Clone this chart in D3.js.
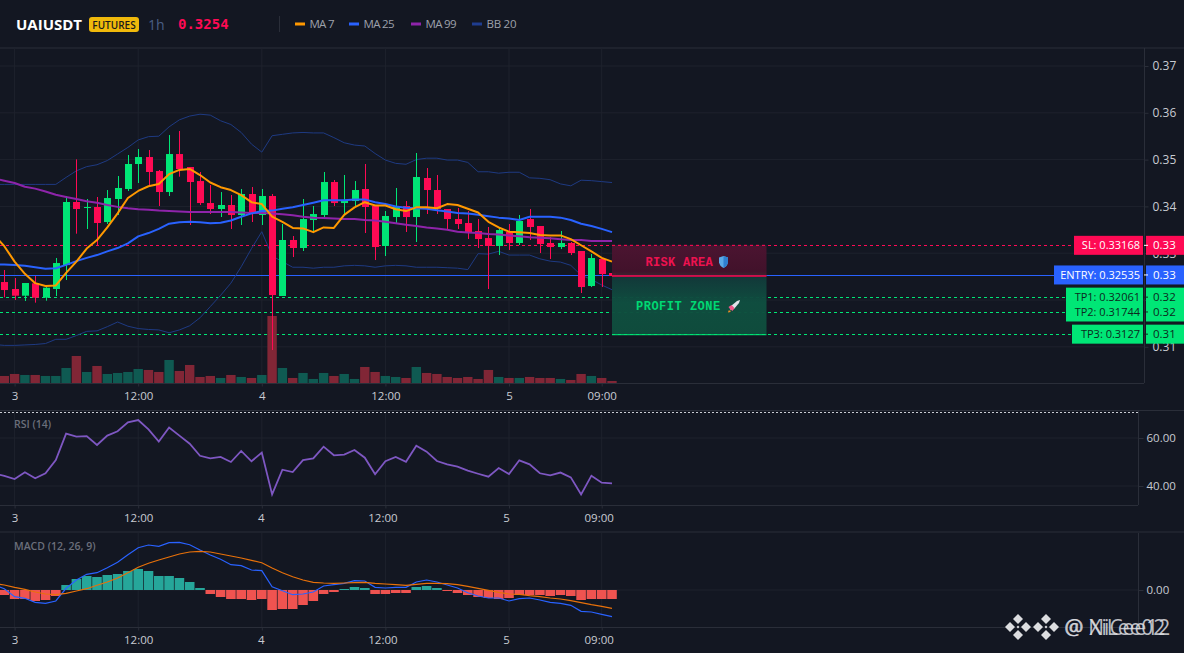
<!DOCTYPE html>
<html>
<head>
<meta charset="utf-8">
<script src="https://cdn.jsdelivr.net/npm/d3@7"></script>
<style>
  html, body { margin: 0; padding: 0; background: #131722; overflow: hidden; }
  text { font-family: "Open Sans", Roboto, sans-serif; }
</style>
</head>
<body>
<div id="chart"></div>
<script>
// candles, one per hour
const opens = [.32384,.32235,.32092,.32356,.32049,.32235,.32747,.34094,.33973,.33987,.33666,.34158,.34372,.34906,.35055,.34756,.34307,.35119,.34842,.34542,.34072,.33944,.34030,.33816,.34265,.33816,.34222,.32085,.33282,.33111,.33709,.33816,.34521,.34072,.34115,.34372,.34008,.33154,.33773,.34008,.33773,.34607,.34350,.33944,.33730,.33645,.33474,.33324,.33154,.33453,.33218,.33730,.33581,.33218,.33132,.33218,.33047,.32299,.32876,.32577];
const highs = [.32641,.32470,.32363,.32512,.32320,.32897,.34222,.35005,.34158,.34201,.34350,.34649,.35098,.35226,.35205,.34778,.35525,.35611,.34842,.34735,.34457,.34307,.34243,.34372,.34414,.34372,.34265,.33624,.33367,.34158,.34008,.34735,.34564,.34671,.34542,.34906,.34008,.33901,.34393,.34115,.35141,.34820,.34671,.33944,.33966,.33901,.33730,.33560,.33560,.33624,.33816,.33944,.33581,.33346,.33474,.33239,.33047,.32983,.32876,.32577];
const lows = [.32057,.32000,.31978,.31943,.31985,.32085,.32427,.33417,.33517,.33154,.33624,.33816,.34329,.34500,.34450,.34008,.34222,.34635,.33602,.34030,.33837,.33773,.33517,.33602,.33666,.33602,.30931,.32085,.32918,.33047,.33474,.33773,.34008,.33816,.33987,.33431,.32854,.32940,.33645,.33453,.33239,.33837,.33837,.33495,.33517,.33303,.33111,.32235,.32961,.33068,.33175,.33282,.33004,.32876,.33089,.32961,.32149,.32277,.32277,.32512];
const closes = [.32213,.32092,.32363,.32049,.32263,.32790,.34094,.33944,.33987,.33645,.34179,.34393,.34906,.35055,.34735,.34307,.35119,.34799,.34521,.34072,.33944,.34030,.33816,.34265,.33859,.34222,.32106,.33282,.33111,.33730,.33837,.34521,.34072,.34115,.34350,.33987,.33132,.33795,.34008,.33773,.34628,.34350,.33944,.33730,.33624,.33453,.33303,.33154,.33495,.33218,.33688,.33560,.33196,.33132,.33218,.33004,.32277,.32897,.32555,.32512];
const volumes = [22,28,25,25,22,22,46,82,34,52,28,31,34,43,40,34,70,37,55,19,22,16,25,19,16,25,202,46,16,31,13,31,22,28,13,49,34,22,19,16,49,31,28,19,16,19,13,40,19,16,16,19,16,16,13,10,28,22,16,7];

// overlay lines start one hour before the first candle
const ma7 = [.3339,.3315,.3282,.3256,.3236,.3230,.3231,.3258,.3282,.3310,.3328,.3355,.3385,.3418,.3433,.3443,.3448,.3469,.3478,.3480,.3467,.3451,.3441,.3435,.3424,.3409,.3405,.3378,.3367,.3354,.3353,.3345,.3355,.3354,.3382,.3398,.3409,.3402,.3402,.3394,.3390,.3398,.3398,.3396,.3405,.3403,.3395,.3387,.3367,.3355,.3346,.3345,.3343,.3339,.3338,.3338,.3330,.3317,.3304,.3290,.3282];
const ma25 = [.3276,.3276,.3275,.3273,.3270,.3267,.3268,.3275,.3283,.3290,.3296,.3304,.3311,.3321,.3336,.3343,.3352,.3363,.3366,.3367,.3366,.3364,.3365,.3370,.3378,.3385,.3390,.3391,.3395,.3398,.3403,.3408,.3413,.3413,.3413,.3415,.3415,.3409,.3405,.3400,.3397,.3396,.3395,.3392,.3389,.3386,.3385,.3382,.3379,.3376,.3374,.3371,.3378,.3378,.3378,.3376,.3371,.3363,.3358,.3352,.3345];
const ma99 = [.3460,.3455,.3450,.3442,.3438,.3432,.3425,.3420,.3416,.3411,.3408,.3403,.3399,.3396,.3394,.3393,.3391,.3390,.3389,.3388,.3388,.3388,.3388,.3388,.3387,.3386,.3386,.3385,.3383,.3381,.3378,.3376,.3375,.3374,.3373,.3373,.3371,.3370,.3367,.3364,.3361,.3358,.3355,.3353,.3350,.3346,.3344,.3343,.3341,.3340,.3338,.3336,.3334,.3333,.3332,.3330,.3328,.3328,.3326,.3326,.3326];
const bbUpper = [.3447,.3447,.3447,.3447,.3447,.3447,.3447,.3462,.3476,.3485,.3489,.3498,.3512,.3526,.3542,.3549,.3550,.3570,.3585,.3593,.3597,.3595,.3583,.3575,.3558,.3533,.3516,.3551,.3554,.3557,.3558,.3557,.3557,.3547,.3536,.3531,.3529,.3513,.3499,.3492,.3490,.3500,.3503,.3503,.3499,.3499,.3494,.3474,.3474,.3471,.3473,.3473,.3461,.3460,.3457,.3448,.3444,.3456,.3455,.3453,.3451];
const bbLower = [.3105,.3103,.3103,.3104,.3105,.3107,.3116,.3116,.3124,.3133,.3134,.3143,.3153,.3144,.3139,.3137,.3136,.3130,.3136,.3145,.3162,.3186,.3210,.3236,.3271,.3310,.3346,.3294,.3282,.3270,.3270,.3268,.3270,.3270,.3273,.3274,.3273,.3270,.3273,.3274,.3273,.3270,.3270,.3270,.3269,.3268,.3265,.3299,.3298,.3304,.3296,.3296,.3296,.3288,.3283,.3281,.3274,.3253,.3244,.3232,.3222];

const rsi = [45.3,44.2,42.9,45.7,43.2,45.3,50.8,61.8,60.6,60.8,57.1,61.0,62.8,66.5,67.5,63.6,58.5,64.4,61.0,57.6,52.6,51.5,52.1,50.0,54.6,50.3,53.9,36.5,46.8,45.8,50.8,51.5,56.4,52.8,53.1,55.0,51.8,44.9,50.3,52.1,50.1,56.8,54.3,50.4,49.0,48.1,46.4,45.1,43.9,47.5,45.0,50.7,49.0,45.3,44.4,45.6,43.6,36.5,44.3,41.4,41.1];
const macdLine = [.0005,.00013,-.00067,-.00083,-.00123,-.00133,-.0011,.00017,.001,.00157,.00173,.00223,.00277,.00353,.00423,.0045,.00437,.00473,.00477,.00453,.004,.0035,.00307,.00253,.00243,.002,.00193,.00033,-.00007,-.00047,-.0004,-.0002,.0004,.00053,.00067,.00093,.0009,.00027,.0002,.00027,.00027,.0008,.001,.0008,.0005,.0002,-.00027,-.0006,-.0008,-.0008,-.0011,-.00087,-.0008,-.001,-.00123,-.00133,-.00153,-.00213,-.0022,-.00243,-.00267];
const signalLine = [.00067,.0005,.00027,.00007,-.0002,-.0004,-.00047,-.00033,-.0001,.00013,.00047,.0008,.0012,.00173,.00227,.00267,.003,.0033,.0036,.0038,.00387,.0038,.0036,.0034,.0032,.00297,.00273,.0022,.00173,.00133,.001,.00077,.0007,.00067,.0007,.00073,.00077,.00067,.0006,.00053,.00047,.00057,.00067,.00067,.00063,.00053,.00037,.00017,-.00003,-.00023,-.0004,-.00043,-.00057,-.00067,-.0008,-.0009,-.00107,-.00127,-.00147,-.00163,-.00183];
const macdHist = [-.0005,-.0009,-.0009,-.0011,-.001,-.0006,.0005,.0011,.0014,.0013,.0015,.0016,.0019,.0021,.0019,.0014,.0014,.0012,.0008,.0002,-.0004,-.0007,-.0009,-.0009,-.001,-.0009,-.002,-.0019,-.0019,-.0015,-.0011,-.0004,-.0002,.0001,.0003,.0002,-.0004,-.0004,-.0003,-.0003,.0003,.0004,.0002,-.0001,-.0003,-.0005,-.0007,-.0008,-.0009,-.0008,-.0005,-.0005,-.0005,-.0006,-.0005,-.0006,-.001,-.0009,-.0009,-.0009];

const timeTicks = [1, 13, 25, 37, 49, 58];
const timeLabels = ["3", "12:00", "4", "12:00", "5", "09:00"];
const priceTicks = [0.31, 0.32, 0.33, 0.34, 0.35, 0.36, 0.37];
const rsiTicks = [40, 60];

const levelNames = ["SL: 0.33168", "ENTRY: 0.32535", "TP1: 0.32061", "TP2: 0.31744", "TP3: 0.3127"];
const levelValues = [0.33168, 0.32535, 0.32061, 0.31744, 0.3127];
const levelRounded = ["0.33", "0.33", "0.32", "0.32", "0.31"];
const levelColors = ["#ff0a54", "#2962ff", "#00e676", "#00e676", "#00e676"];
const levelInk = ["#fff", "#fff", "#0c2a20", "#0c2a20", "#0c2a20"];
const legendNames = ["MA 7", "MA 25", "MA 99", "BB 20"];
const legendColors = ["#ff9800", "#2962ff", "#8e24aa", "#1f3d8f"];

const dims = { width: 1184, height: 653, mainRight: 1144, subRight: 1138 };
const hours = d3.range(60);
const lineHours = d3.range(-1, 60);

const svg = d3.select("#chart").append("svg")
    .attr("width", dims.width)
    .attr("height", dims.height)
    .style("display", "block");

svg.append("rect").attr("width", dims.width).attr("height", dims.height).attr("fill", "#131722");

const x = d3.scaleLinear().domain([0, 59]).range([4.3, 612]);
const y = d3.scaleLinear().domain([0.31, 0.37]).range([346.8, 66]);
const yVol = d3.scaleLinear().domain([0, 202]).range([383.3, 316]);
const yRsi = d3.scaleLinear().domain([40, 60]).range([486, 438]);
const yMacd = d3.scaleLinear().domain([-0.001, 0.001]).range([600, 580]);

const defs = svg.append("defs");
[["clip-main", dims.mainRight, 48, 335], ["clip-rsi", dims.subRight, 412, 93], ["clip-macd", dims.subRight, 533, 94]]
    .forEach(c => defs.append("clipPath").attr("id", c[0]).append("rect")
        .attr("x", 0).attr("y", c[2]).attr("width", c[1]).attr("height", c[3]));

const riskFade = defs.append("linearGradient").attr("id", "risk-fade").attr("x2", 0).attr("y2", 1);
riskFade.append("stop").attr("offset", 0).attr("stop-color", "#4d1431");
riskFade.append("stop").attr("offset", 0.85).attr("stop-color", "#43122b");
riskFade.append("stop").attr("offset", 1).attr("stop-color", "#3a2630");
const profitFade = defs.append("linearGradient").attr("id", "profit-fade").attr("x2", 0).attr("y2", 1);
profitFade.append("stop").attr("offset", 0).attr("stop-color", "#12393a");
profitFade.append("stop").attr("offset", 0.45).attr("stop-color", "#0f4f40");
profitFade.append("stop").attr("offset", 1).attr("stop-color", "#0f4d3d");

// frame lines
const frame = "#2a2e39", gridCol = "#1e222d";
[[48, 0, 1184], [410.5, 0, 1184], [532, 0, 1184]].forEach(l =>
    svg.append("line").attr("x1", l[1]).attr("x2", l[2]).attr("y1", l[0]).attr("y2", l[0]).attr("stroke", frame));

function bottomAxis(yPos, right, shift) {
    const g = svg.append("g").attr("transform", `translate(0,${yPos})`)
        .call(d3.axisBottom(x).tickValues(timeTicks).tickSize(3).tickFormat((d, i) => timeLabels[i]));
    g.select(".domain").remove();
    g.append("line").attr("x1", 0).attr("x2", right).attr("stroke", frame);
    g.selectAll(".tick line").attr("stroke", frame);
    g.selectAll(".tick text").attr("fill", "#c8cbd2").attr("font-size", 11.5).attr("font-weight", 500)
        .attr("font-family", "'Open Sans', sans-serif").attr("dy", "0.95em")
        .attr("x", (d, i) => shift[i]);
}

function panelGrid(top, bottom, right) {
    const g = svg.append("g");
    g.selectAll("line.v").data(timeTicks).join("line")
        .attr("x1", d => x(d)).attr("x2", d => x(d)).attr("y1", top).attr("y2", bottom).attr("stroke", gridCol);
    g.append("line").attr("x1", right + 0.5).attr("x2", right + 0.5).attr("y1", top).attr("y2", bottom).attr("stroke", frame);
}

panelGrid(48, 383, dims.mainRight);
panelGrid(411, 505, dims.subRight);
panelGrid(533, 627, dims.subRight);

// price axis
const priceAxis = svg.append("g").attr("transform", `translate(${dims.mainRight + 0.5},0)`)
    .call(d3.axisRight(y).tickValues(priceTicks).tickSize(4).tickFormat(d3.format(".2f")));
priceAxis.select(".domain").remove();
priceAxis.selectAll(".tick line").attr("stroke", frame);
priceAxis.selectAll(".tick text").attr("fill", "#c8cbd2").attr("font-size", 12).attr("font-weight", 500)
    .attr("font-family", "'Open Sans', sans-serif").attr("x", 8);
svg.append("g").selectAll("line").data(priceTicks).join("line")
    .attr("x1", 0).attr("x2", dims.mainRight).attr("y1", d => y(d)).attr("y2", d => y(d)).attr("stroke", gridCol);

bottomAxis(383.5, dims.mainRight, [0, 0, 0, 0, 0, 0]);
bottomAxis(505.5, dims.subRight, [0, 0, -1, -3, -3, -3]);
bottomAxis(627.5, dims.subRight, [0, 0, -1, -3, -3, -3]);

// level lines
const main = svg.append("g").attr("clip-path", "url(#clip-main)");
const boxLeft = [1074, 1054, 1066, 1066, 1072];
main.selectAll("line.level").data(levelValues).join("line")
    .attr("x1", 0).attr("x2", (d, i) => boxLeft[i])
    .attr("y1", d => Math.round(y(d)) + 0.5).attr("y2", d => Math.round(y(d)) + 0.5)
    .attr("stroke", (d, i) => levelColors[i])
    .attr("stroke-width", 1)
    .attr("shape-rendering", "crispEdges")
    .attr("stroke-dasharray", (d, i) => i === 1 ? null : "3 3");

// volume
main.append("g").selectAll("rect").data(hours).join("rect")
    .attr("x", i => x(i) - 4.7).attr("width", 9.4)
    .attr("y", i => yVol(volumes[i])).attr("height", i => yVol(0) - yVol(volumes[i]))
    .attr("fill", i => closes[i] >= opens[i] ? "#0f5a52" : "#812636");

// bands under the candles
const lineGen = d3.line().x((d, i) => x(lineHours[i])).y(d => y(d));
[bbUpper, bbLower].forEach(s => main.append("path").attr("d", lineGen(s))
    .attr("fill", "none").attr("stroke", "#1e3a82").attr("stroke-width", 1));

// candles
const candles = main.append("g").selectAll("g").data(hours).join("g")
    .attr("fill", i => closes[i] >= opens[i] ? "#00e676" : "#ff0a54")
    .attr("stroke", i => closes[i] >= opens[i] ? "#00e676" : "#ff0a54");
candles.append("line")
    .attr("x1", i => Math.round(x(i)) + 0.5).attr("x2", i => Math.round(x(i)) + 0.5)
    .attr("y1", i => y(highs[i])).attr("y2", i => y(lows[i]));
candles.append("rect")
    .attr("stroke", "none")
    .attr("x", i => Math.round(x(i)) - 3).attr("width", 7)
    .attr("y", i => y(Math.max(opens[i], closes[i])))
    .attr("height", i => Math.max(1, Math.abs(y(opens[i]) - y(closes[i]))));

// moving averages
[[ma99, "#8e24aa"], [ma25, "#2962ff"], [ma7, "#ff9800"]].forEach(s =>
    main.append("path").attr("d", lineGen(s[0])).attr("fill", "none")
        .attr("stroke", s[1]).attr("stroke-width", 2).attr("stroke-linejoin", "round"));

// risk and profit zones
const zoneStart = 59, zoneEnd = 74;
main.append("rect").attr("x", x(zoneStart)).attr("width", x(zoneEnd) - x(zoneStart))
    .attr("y", y(levelValues[0])).attr("height", y(levelValues[1]) - y(levelValues[0]) + 1)
    .attr("fill", "url(#risk-fade)").attr("fill-opacity", 0.97);
main.append("rect").attr("x", x(zoneStart)).attr("width", x(zoneEnd) - x(zoneStart))
    .attr("y", y(levelValues[1]) + 2).attr("height", y(levelValues[4]) - y(levelValues[1]) - 2)
    .attr("fill", "url(#profit-fade)").attr("fill-opacity", 0.97);
main.append("line").attr("x1", x(zoneStart)).attr("x2", x(zoneEnd))
    .attr("y1", y(levelValues[0])).attr("y2", y(levelValues[0]))
    .attr("stroke", "#ff0a54").attr("stroke-dasharray", "3 3");
main.append("line").attr("x1", x(zoneStart)).attr("x2", x(zoneEnd))
    .attr("y1", y(levelValues[1]) + 1).attr("y2", y(levelValues[1]) + 1)
    .attr("stroke", "#ff0a54").attr("stroke-width", 1.5);
main.append("line").attr("x1", x(zoneStart)).attr("x2", x(zoneEnd))
    .attr("y1", y(levelValues[4]) + 0.5).attr("y2", y(levelValues[4]) + 0.5)
    .attr("stroke", "#00e676").attr("stroke-opacity", 0.85).attr("stroke-width", 1.2);

svg.append("text").attr("x", 645.5).attr("y", 266).text("RISK AREA")
    .attr("fill", "#ee1250").attr("font-size", 12).attr("font-weight", 700).attr("letter-spacing", 0.3)
    .style("font-family", "'Liberation Mono', monospace");
svg.append("text").attr("x", 636).attr("y", 310).text("PROFIT ZONE")
    .attr("fill", "#00d873").attr("font-size", 12).attr("font-weight", 700).attr("letter-spacing", 0.5)
    .style("font-family", "'Liberation Mono', monospace");

// shield and rocket glyphs, no emoji font here
svg.append("path").attr("d", "M719 257.5 l4.5-1.5 4.5 1.5 v5 q-1 4-4.5 5.5 q-3.5-1.5-4.5-5.5z").attr("fill", "#5aa9e6");
svg.append("path").attr("d", "M723.5 256 l4.5 1.5 v5 q-1 4-4.5 5.5z").attr("fill", "#2f7fd0");
svg.append("path").attr("d", "M730 309 l1-3 6-5 3-1 -1 3 -5 6 -3 1z").attr("fill", "#dfe3ea");
svg.append("path").attr("d", "M730 309 l-1.5-2 3-2 1 1 2 2 -2 3z").attr("fill", "#f0568a");
svg.append("path").attr("d", "M728.5 310.5 l2 0 0 1.5 -2.5 .5z").attr("fill", "#f08a24");

// level labels on the right edge
const boxes = svg.append("g").selectAll("g").data(levelValues).join("g");
boxes.append("rect").attr("x", (d, i) => boxLeft[i]).attr("width", (d, i) => 1143 - boxLeft[i])
    .attr("y", d => y(d) - 9.5).attr("height", 19).attr("fill", (d, i) => levelColors[i]);
boxes.append("rect").attr("x", 1146).attr("width", 38)
    .attr("y", d => y(d) - 9.5).attr("height", 19).attr("fill", (d, i) => levelColors[i]);
boxes.append("line").attr("x1", 1144).attr("x2", 1148).attr("y1", d => y(d)).attr("y2", d => y(d))
    .attr("stroke", (d, i) => i < 2 ? "#fff" : "#0c2a20");
boxes.append("text").attr("x", 1140).attr("y", d => y(d)).attr("dy", "0.35em")
    .attr("text-anchor", "end").attr("font-size", 11).attr("font-weight", 500)
    .attr("fill", (d, i) => levelInk[i]).text((d, i) => levelNames[i]);
boxes.append("text").attr("x", 1153).attr("y", d => y(d)).attr("dy", "0.35em")
    .attr("font-size", 11.5).attr("font-weight", 500)
    .attr("fill", (d, i) => levelInk[i]).text((d, i) => levelRounded[i]);

// RSI panel
const rsiAxis = svg.append("g").attr("transform", `translate(${dims.subRight + 0.5},0)`)
    .call(d3.axisRight(yRsi).tickValues(rsiTicks).tickSize(5).tickFormat(d3.format(".2f")));
rsiAxis.select(".domain").remove();
rsiAxis.selectAll(".tick line").attr("stroke", frame);
rsiAxis.selectAll(".tick text").attr("fill", "#c8cbd2").attr("font-size", 11.5).attr("font-weight", 500)
    .attr("font-family", "'Open Sans', sans-serif").attr("x", 8);
svg.append("g").selectAll("line").data(rsiTicks).join("line")
    .attr("x1", 0).attr("x2", dims.subRight).attr("y1", d => yRsi(d)).attr("y2", d => yRsi(d)).attr("stroke", gridCol);
svg.append("line").attr("x1", 0).attr("x2", dims.subRight).attr("y1", 412.5).attr("y2", 412.5)
    .attr("stroke", "#c9ccd3").attr("stroke-dasharray", "2 2");
svg.append("g").attr("clip-path", "url(#clip-rsi)").append("path")
    .attr("d", d3.line().x((d, i) => x(lineHours[i])).y(d => yRsi(d))(rsi))
    .attr("fill", "none").attr("stroke", "#7e57c2").attr("stroke-width", 1.8);
svg.append("text").attr("x", 14).attr("y", 428).text("RSI (14)").attr("fill", "#6b6f7b").attr("font-size", 10.5).attr("font-weight", 600);

// MACD panel
const macdAxis = svg.append("g").attr("transform", `translate(${dims.subRight + 0.5},0)`)
    .call(d3.axisRight(yMacd).tickValues([0]).tickSize(5).tickFormat(d3.format(".2f")));
macdAxis.select(".domain").remove();
macdAxis.selectAll(".tick line").attr("stroke", frame);
macdAxis.selectAll(".tick text").attr("fill", "#c8cbd2").attr("font-size", 11.5).attr("font-weight", 500)
    .attr("font-family", "'Open Sans', sans-serif").attr("x", 8);
svg.append("line").attr("x1", 0).attr("x2", dims.subRight).attr("y1", yMacd(0)).attr("y2", yMacd(0)).attr("stroke", gridCol);
const macd = svg.append("g").attr("clip-path", "url(#clip-macd)");
macd.selectAll("rect").data(hours).join("rect")
    .attr("x", i => x(i) - 4.8).attr("width", 9.6)
    .attr("y", i => Math.min(yMacd(0), yMacd(macdHist[i])))
    .attr("height", i => Math.abs(yMacd(macdHist[i]) - yMacd(0)))
    .attr("fill", i => macdHist[i] >= 0 ? "#26a69a" : "#ef5350");
const macdGen = d3.line().x((d, i) => x(lineHours[i])).y(d => yMacd(d));
macd.append("path").attr("d", macdGen(macdLine)).attr("fill", "none").attr("stroke", "#2962ff").attr("stroke-width", 1.2);
macd.append("path").attr("d", macdGen(signalLine)).attr("fill", "none").attr("stroke", "#e8710a").attr("stroke-width", 1.2);
svg.append("text").attr("x", 14).attr("y", 550).text("MACD (12, 26, 9)").attr("fill", "#6b6f7b").attr("font-size", 10.5).attr("font-weight", 600);

// header
svg.append("text").attr("x", 16).attr("y", 29.5).text("UAIUSDT").attr("fill", "#fff").attr("font-size", 15).attr("font-weight", 700);
svg.append("rect").attr("x", 89).attr("y", 17).attr("width", 50).attr("height", 15).attr("rx", 3).attr("fill", "#f0b90b");
svg.append("text").attr("x", 114).attr("y", 28.5).attr("text-anchor", "middle").text("FUTURES").attr("fill", "#1a1a1a")
    .attr("font-size", 10).attr("font-weight", 600);
svg.append("text").attr("x", 148).attr("y", 29.5).text("1h").attr("fill", "#4a5f85").attr("font-size", 14);
svg.append("text").attr("x", 178).attr("y", 29).text("0.3254").attr("fill", "#ff0a54").attr("font-size", 14)
    .attr("font-weight", 700).style("font-family", "'DejaVu Sans Mono', monospace");
svg.append("line").attr("x1", 279.5).attr("x2", 279.5).attr("y1", 16).attr("y2", 32).attr("stroke", "#2a2e39");
const legendX = [295, 349, 411, 472];
const legend = svg.append("g").selectAll("g").data(legendNames).join("g")
    .attr("transform", (d, i) => `translate(${legendX[i]},24)`);
legend.append("rect").attr("y", -1.5).attr("width", 10).attr("height", 3).attr("fill", (d, i) => legendColors[i]);
legend.append("text").attr("x", 14.5).attr("dy", "0.35em").attr("fill", "#9da1ab").attr("font-size", 11.5).attr("textLength", (d, i) => [25, 31, 31, 30][i]).text(d => d);

// watermark, two stacked copies
function mark(px, py) {
    const g = svg.append("g").attr("transform", `translate(${px},${py})`).attr("fill", "#dcdde0");
    [[0, -8], [-8, 0], [8, 0], [0, 8]].forEach(o =>
        g.append("path").attr("transform", `translate(${o[0]},${o[1]})`).attr("d", "M0-5 L5 0 0 5 -5 0z"));
    g.append("path").attr("d", "M0-2.5 L2.5 0 0 2.5 -2.5 0z").attr("fill", "#131722");
    g.append("path").attr("d", "M0-1.5 L1.5 0 0 1.5 -1.5 0z");
}
mark(1018, 627);
mark(1046, 627);
["@ NiCee12", "@ XiLee02"].forEach((t, i) => svg.append("text")
    .attr("x", 1064 + i).attr("y", 635).text(t).attr("fill", "#dcdde0").attr("fill-opacity", 0.85)
    .attr("font-size", 21));
</script>
</body>
</html>
